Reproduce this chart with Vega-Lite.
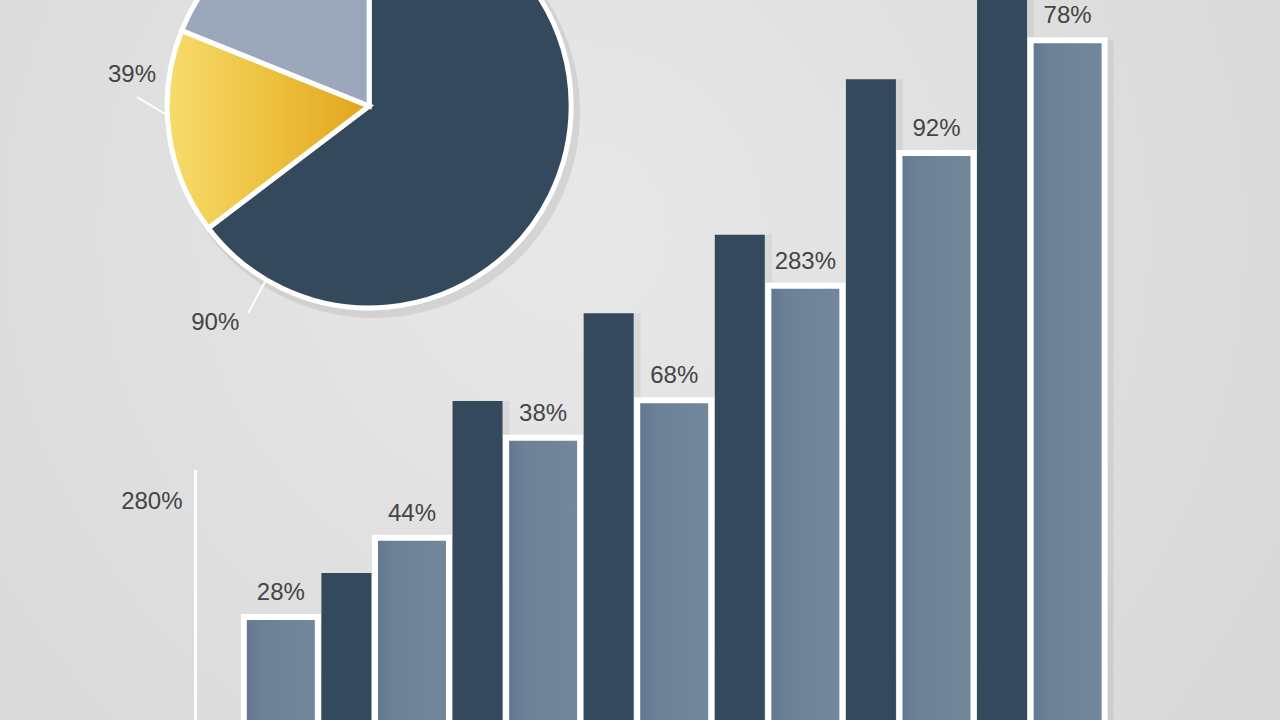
{
  "$schema": "https://vega.github.io/schema/vega-lite/v6.json",
  "width": 1280,
  "height": 720,
  "autosize": {"type": "fit", "contains": "padding"},
  "padding": 0,
  "background": "#dedede",
  "view": {
    "stroke": null,
    "fill": {
      "gradient": "radial",
      "x1": 0.45, "y1": 0.4, "r1": 0,
      "x2": 0.45, "y2": 0.4, "r2": 0.8,
      "stops": [
        {"offset": 0, "color": "#e8e8e8"},
        {"offset": 1, "color": "#d4d4d4"}
      ]
    }
  },
  "datasets": {
    "bars": [
      {"bar": 1, "series": "light", "value": 14.3, "label": "28%"},
      {"bar": 2, "series": "dark", "value": 20.4, "label": ""},
      {"bar": 3, "series": "light", "value": 25.3, "label": "44%"},
      {"bar": 4, "series": "dark", "value": 44.3, "label": ""},
      {"bar": 5, "series": "light", "value": 39.2, "label": "38%"},
      {"bar": 6, "series": "dark", "value": 56.5, "label": ""},
      {"bar": 7, "series": "light", "value": 44.4, "label": "68%"},
      {"bar": 8, "series": "dark", "value": 67.4, "label": ""},
      {"bar": 9, "series": "light", "value": 60.3, "label": "283%"},
      {"bar": 10, "series": "dark", "value": 89.0, "label": ""},
      {"bar": 11, "series": "light", "value": 78.75, "label": "92%"},
      {"bar": 12, "series": "dark", "value": 110, "label": ""},
      {"bar": 13, "series": "light", "value": 94.4, "label": "78%"}
    ],
    "pie": [
      {"slice": "dark", "share": 64.6, "order": 1},
      {"slice": "yellow", "share": 16.4, "order": 2},
      {"slice": "grey", "share": 18.9, "order": 3}
    ]
  },
  "layer": [
    {
      "data": {"name": "bars"},
      "transform": [{"filter": "datum.series === 'dark'"}],
      "mark": {"type": "bar", "orient": "vertical", "width": 50, "fill": "#000000", "opacity": 0.05, "xOffset": 7, "clip": true},
      "encoding": {
        "x": {"field": "bar", "type": "quantitative", "scale": {"domain": [-3.207, 16.163], "nice": false, "zero": false}, "axis": null},
        "y": {"field": "value", "type": "quantitative", "stack": null, "scale": {"domain": [0, 100], "nice": false, "zero": true}, "axis": null},
        "y2": {"datum": -1}
      }
    },
    {
      "data": {"name": "bars"},
      "transform": [{"filter": "datum.series === 'light'"}],
      "mark": {"type": "bar", "orient": "vertical", "width": 80, "fill": "#000000", "opacity": 0.06, "xOffset": 6, "clip": true},
      "encoding": {
        "x": {"field": "bar", "type": "quantitative", "scale": {"domain": [-3.207, 16.163], "nice": false, "zero": false}, "axis": null},
        "y": {"field": "value", "type": "quantitative", "stack": null, "scale": {"domain": [0, 100], "nice": false, "zero": true}, "axis": null},
        "y2": {"datum": -1}
      }
    },
    {
      "data": {"values": [{}]},
      "mark": {"type": "arc", "radius": 206, "fill": "#000000", "opacity": 0.08, "xOffset": 5, "yOffset": 6, "clip": true},
      "encoding": {
        "x": {"datum": 2.347, "type": "quantitative", "scale": {"domain": [-3.207, 16.163], "nice": false, "zero": false}, "axis": null},
        "y": {"datum": 85.28, "type": "quantitative", "scale": {"domain": [0, 100], "nice": false, "zero": true}, "axis": null}
      }
    },
    {
      "data": {"name": "bars"},
      "transform": [{"filter": "datum.series === 'dark'"}],
      "mark": {"type": "bar", "orient": "vertical", "width": 50, "fill": "#34495c", "clip": true},
      "encoding": {
        "x": {"field": "bar", "type": "quantitative", "scale": {"domain": [-3.207, 16.163], "nice": false, "zero": false}, "axis": null},
        "y": {"field": "value", "type": "quantitative", "stack": null, "scale": {"domain": [0, 100], "nice": false, "zero": true}, "axis": null},
        "y2": {"datum": -1}
      }
    },
    {
      "data": {"name": "bars"},
      "transform": [{"filter": "datum.series === 'light'"}],
      "mark": {
        "type": "bar", "orient": "vertical", "width": 74, "clip": true,
        "stroke": "#ffffff", "strokeWidth": 6,
        "fill": {
          "gradient": "linear", "x1": 0, "y1": 0, "x2": 1, "y2": 0,
          "stops": [
            {"offset": 0, "color": "#627790"},
            {"offset": 0.25, "color": "#6c8097"},
            {"offset": 1, "color": "#74889c"}
          ]
        }
      },
      "encoding": {
        "x": {"field": "bar", "type": "quantitative", "scale": {"domain": [-3.207, 16.163], "nice": false, "zero": false}, "axis": null},
        "y": {"field": "value", "type": "quantitative", "stack": null, "scale": {"domain": [0, 100], "nice": false, "zero": true}, "axis": null},
        "y2": {"datum": -1}
      }
    },
    {
      "data": {"name": "bars"},
      "transform": [{"filter": "datum.series === 'light'"}],
      "mark": {"type": "text", "dy": -24, "baseline": "middle", "align": "center", "font": "Liberation Sans", "fontSize": 24, "fill": "#444444"},
      "encoding": {
        "x": {"field": "bar", "type": "quantitative", "scale": {"domain": [-3.207, 16.163], "nice": false, "zero": false}, "axis": null},
        "y": {"field": "value", "type": "quantitative", "stack": null, "scale": {"domain": [0, 100], "nice": false, "zero": true}, "axis": null},
        "text": {"field": "label"}
      }
    },
    {
      "data": {"name": "pie"},
      "mark": {"type": "arc", "radius": 202, "stroke": "#ffffff", "strokeWidth": 5, "clip": true},
      "encoding": {
        "x": {"datum": 2.347, "type": "quantitative", "scale": {"domain": [-3.207, 16.163], "nice": false, "zero": false}, "axis": null},
        "y": {"datum": 85.28, "type": "quantitative", "scale": {"domain": [0, 100], "nice": false, "zero": true}, "axis": null},
        "theta": {"field": "share", "type": "quantitative", "stack": true},
        "order": {"field": "order", "type": "quantitative"},
        "fill": {
          "condition": {
            "test": "datum.slice === 'yellow'",
            "value": {
              "gradient": "linear", "x1": 0, "y1": 0, "x2": 1, "y2": 0,
              "stops": [
                {"offset": 0, "color": "#f7dc6c"},
                {"offset": 0.5, "color": "#edc13f"},
                {"offset": 1, "color": "#e2a41d"}
              ]
            }
          },
          "field": "slice", "type": "nominal",
          "scale": {"domain": ["dark", "yellow", "grey"], "range": ["#34495c", "#eab93a", "#9ba7ba"]},
          "legend": null
        }
      }
    },
    {
      "data": {"values": [{}]},
      "mark": {"type": "rule", "stroke": "#ffffff", "strokeWidth": 3, "clip": true},
      "encoding": {
        "x": {"datum": -0.301, "type": "quantitative", "scale": {"domain": [-3.207, 16.163], "nice": false, "zero": false}, "axis": null},
        "y": {"datum": -1, "type": "quantitative", "scale": {"domain": [0, 100], "nice": false, "zero": true}, "axis": null},
        "y2": {"datum": 34.72}
      }
    },
    {
      "data": {"values": [{}]},
      "mark": {"type": "rule", "stroke": "#ffffff", "strokeWidth": 2},
      "encoding": {
        "x": {"datum": -1.194, "type": "quantitative", "scale": {"domain": [-3.207, 16.163], "nice": false, "zero": false}, "axis": null},
        "y": {"datum": 86.53, "type": "quantitative", "scale": {"domain": [0, 100], "nice": false, "zero": true}, "axis": null},
        "x2": {"datum": -0.74},
        "y2": {"datum": 84.03}
      }
    },
    {
      "data": {"values": [{}]},
      "mark": {"type": "rule", "stroke": "#ffffff", "strokeWidth": 2},
      "encoding": {
        "x": {"datum": 0.501, "type": "quantitative", "scale": {"domain": [-3.207, 16.163], "nice": false, "zero": false}, "axis": null},
        "y": {"datum": 56.53, "type": "quantitative", "scale": {"domain": [0, 100], "nice": false, "zero": true}, "axis": null},
        "x2": {"datum": 0.758},
        "y2": {"datum": 60.83}
      }
    },
    {
      "data": {"values": [{}]},
      "mark": {"type": "text", "text": "39%", "baseline": "middle", "align": "center", "font": "Liberation Sans", "fontSize": 24, "fill": "#444444"},
      "encoding": {
        "x": {"datum": -1.27, "type": "quantitative", "scale": {"domain": [-3.207, 16.163], "nice": false, "zero": false}, "axis": null},
        "y": {"datum": 89.6, "type": "quantitative", "scale": {"domain": [0, 100], "nice": false, "zero": true}, "axis": null}
      }
    },
    {
      "data": {"values": [{}]},
      "mark": {"type": "text", "text": "90%", "baseline": "middle", "align": "center", "font": "Liberation Sans", "fontSize": 24, "fill": "#444444"},
      "encoding": {
        "x": {"datum": 0.0, "type": "quantitative", "scale": {"domain": [-3.207, 16.163], "nice": false, "zero": false}, "axis": null},
        "y": {"datum": 55.1, "type": "quantitative", "scale": {"domain": [0, 100], "nice": false, "zero": true}, "axis": null}
      }
    },
    {
      "data": {"values": [{}]},
      "mark": {"type": "text", "text": "280%", "baseline": "middle", "align": "center", "font": "Liberation Sans", "fontSize": 24, "fill": "#444444"},
      "encoding": {
        "x": {"datum": -0.967, "type": "quantitative", "scale": {"domain": [-3.207, 16.163], "nice": false, "zero": false}, "axis": null},
        "y": {"datum": 30.28, "type": "quantitative", "scale": {"domain": [0, 100], "nice": false, "zero": true}, "axis": null}
      }
    }
  ]
}
